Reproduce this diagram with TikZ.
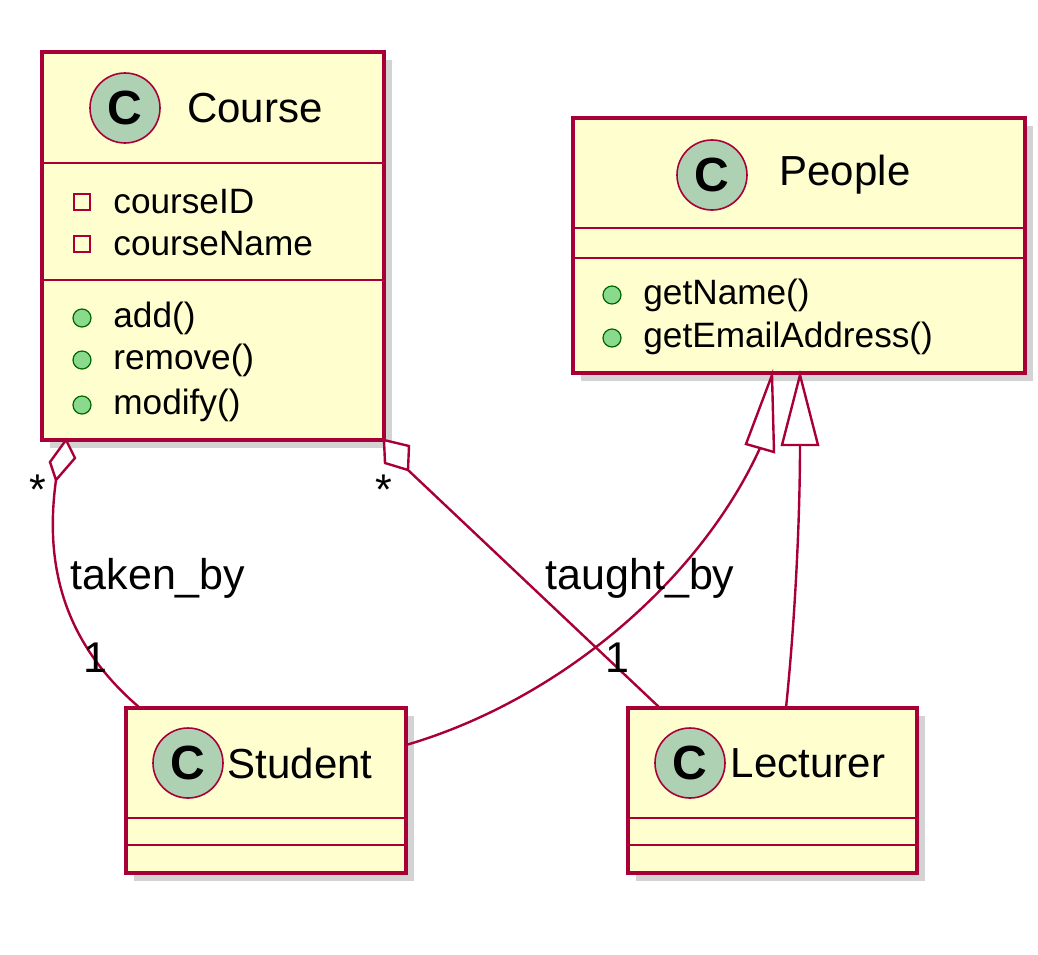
\documentclass[tikz,border=0pt]{standalone}
\usepackage{fontspec}
\setmainfont{Liberation Sans}
\usetikzlibrary{shadows,calc,arrows.meta}
\definecolor{bx}{HTML}{FEFECE}
\definecolor{bd}{HTML}{A80036}
\definecolor{cg}{HTML}{ADD1B2}
\begin{document}
\begin{tikzpicture}[x=0.5pt,y=-0.5pt,
 box/.style={draw=bd,line width=1.6pt,fill=bx,drop shadow={shadow xshift=4pt,shadow yshift=-4pt,opacity=0.35}},
 sep/.style={draw=bd,line width=1.4pt},
 cc/.style={circle,draw=bd,fill=cg,line width=0.8pt,minimum size=35pt,inner sep=0pt,font=\fontsize{24}{24}\selectfont\bfseries},
 tt/.style={font=\fontsize{21}{24}\selectfont,inner sep=0pt},
 mm/.style={font=\fontsize{17.6}{20}\selectfont,inner sep=0pt,anchor=west},
 pub/.style={circle,draw=black!60!green,fill=cg!80!green,line width=0.6pt,minimum size=9pt,inner sep=0pt},
 priv/.style={rectangle,draw=bd,line width=0.6pt,minimum size=8pt,inner sep=0pt},
 ln/.style={draw=bd,line width=1.2pt},
 lb/.style={font=\fontsize{21.5}{24}\selectfont,inner sep=0pt}]
\useasboundingbox (0,0) rectangle (1038,954);
% Course
\path[box] (42,52) rectangle (384,440);
\draw[sep] (42,163)--(384,163) (42,280)--(384,280);
\node[cc] (cC) at (125,108) {C};
\node[tt] (tC) at (255,108) {Course};
\node[priv] (p1) at (82,202) {}; \node[mm] (a1) at (113,202) {courseID};
\node[priv] (p2) at (82,244) {}; \node[mm] (a2) at (113,244) {courseName};
\node[pub] (m1) at (82,318) {}; \node[mm] (b1) at (113,318) {add()};
\node[pub] (m2) at (82,360) {}; \node[mm] (b2) at (113,360) {remove()};
\node[pub] (m3) at (82,405) {}; \node[mm] (b3) at (113,405) {modify()};
% People
\path[box] (573,118) rectangle (1025,373);
\draw[sep] (573,228)--(1025,228) (573,258)--(1025,258);
\node[cc] (cP) at (712,175) {C};
\node[tt] (tP) at (845,175) {People};
\node[pub] (m4) at (612,295) {}; \node[mm] (b4) at (643,295) {getName()};
\node[pub] (m5) at (612,338) {}; \node[mm] (b5) at (643,338) {getEmailAddress()};
% Student
\path[box] (126,708) rectangle (406,873);
\draw[sep] (126,818)--(406,818) (126,845)--(406,845);
\node[cc] (cS) at (188,763) {C};
\node[tt] (tS) at (300,763) {Student};
% Lecturer
\path[box] (628,708) rectangle (917,873);
\draw[sep] (628,818)--(917,818) (628,845)--(917,845);
\node[cc] (cL) at (690,763) {C};
\node[tt] (tL) at (808,763) {Lecturer};
% coordinates
\coordinate (d1) at (66,440); \coordinate (d1e) at (56,480);
\coordinate (s1) at (140,708);
\coordinate (d2) at (384,440); \coordinate (d2e) at (408,470);
\coordinate (l1) at (660,708);
\coordinate (t1) at (772,375); \coordinate (t1e) at (760,448);
\coordinate (s2) at (406,745);
\coordinate (t2) at (800,375); \coordinate (t2e) at (800,445);
\coordinate (l2) at (786,708);
% associations
\draw[ln] (d1e) .. controls (45,560) and (60,640) .. (s1);
\draw[ln,fill=white] (d1) -- (75,458) -- (d1e) -- (50,462) -- cycle;
\draw[ln] (d2e) -- (l1);
\draw[ln,fill=white] (d2) -- (409,446) -- (d2e) -- (385,463) -- cycle;
% inheritance
\draw[ln] (s2) .. controls (560,700) and (700,580) .. (t1e);
\draw[ln,fill=white] (t1) -- (746,444) -- (774,452) -- cycle;
\draw[ln] (l2) .. controls (795,620) and (800,520) .. (t2e);
\draw[ln,fill=white] (t2) -- (782,445) -- (818,445) -- cycle;
% labels
\node[lb] (x1) at (38,490) {*};
\node[lb] (x2) at (384,490) {*};
\node[lb] (tb) at (158,578) {taken\_by};
\node[lb] (tg) at (640,578) {taught\_by};
\node[lb] (o1) at (95,658) {1};
\node[lb] (o2) at (617,658) {1};
\end{tikzpicture}
\end{document}
